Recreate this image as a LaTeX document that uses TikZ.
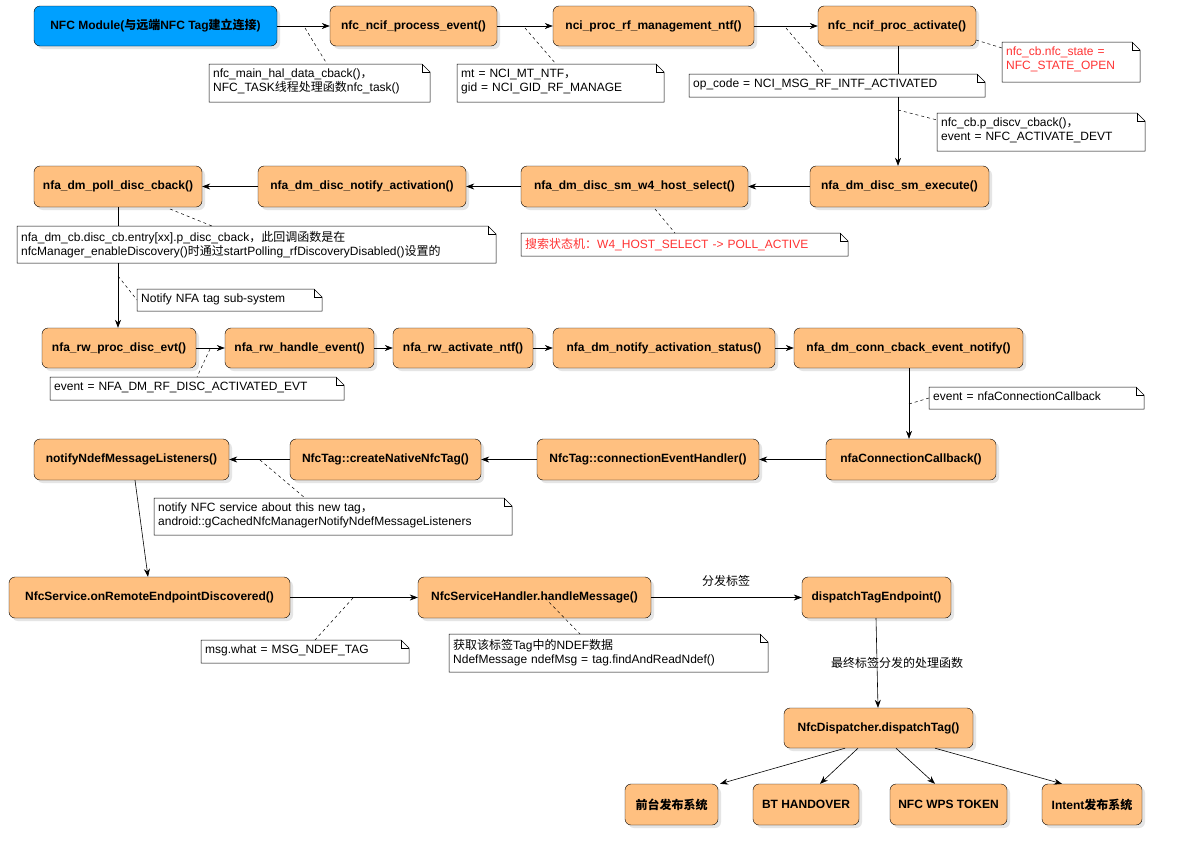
\documentclass[tikz,border=0pt]{standalone}
\usepackage{fontspec}
\setmainfont{Liberation Sans}
\newfontfamily\cjk{Noto Sans CJK SC}
\usetikzlibrary{shadows,calc,arrows.meta}
\definecolor{boxfill}{RGB}{255,192,128}
\definecolor{bluefill}{RGB}{0,160,255}
\definecolor{redtxt}{RGB}{255,51,51}
\tikzset{
  box/.style={draw=black,fill=boxfill,rounded corners=6pt,font=\fontsize{12}{14}\selectfont\bfseries,
    minimum height=40pt,inner sep=3pt,drop shadow={shadow xshift=3pt,shadow yshift=-3pt,fill=gray!40}},
  notebox/.style={anchor=north west,align=left,font=\fontsize{12}{14}\selectfont,inner sep=4pt,text depth=0pt},
  conn/.style={-{Stealth[length=8pt,width=6pt]},line width=0.6pt},
  dline/.style={dashed,line width=0.5pt},
  lbl/.style={font=\fontsize{12}{14}\selectfont}
}
\newcommand{\mkbox}[7]{% name x1 y1 x2 y2 style text
  \node[box,#6,minimum width={#4-#2},minimum height={#5-#3}] (#1) at ({(#2+#4)/2},{(#3+#5)/2}) {#7};}
\newcommand{\mknote}[6]{% name x1 y1 x2 y2 text
  \fill[white] (#2,#3) rectangle (#4,#5);
  \draw[line width=0.5pt] (#2,#3) -- ({#4-8},#3) -- (#4,{#3+8}) -- (#4,#5) -- (#2,#5) -- cycle;
  \draw[line width=0.5pt] ({#4-8},#3) -- ({#4-8},{#3+8}) -- (#4,{#3+8});
  \node[notebox,text width={#4-#2-8}] (#1) at (#2,{#3+1}) {#6};}
\newcommand{\cm}{{\cjk ，}}
\begin{document}
\begin{tikzpicture}[x=1pt,y=-1pt]
\useasboundingbox[fill=white] (0,0) rectangle (1186,865);
% row 1
\mkbox{a1}{34}{6}{277}{46}{fill=bluefill}{NFC Module({\cjk 与远端}NFC Tag{\cjk 建立连接})}
\mkbox{a2}{330}{6}{497}{46}{}{nfc\_ncif\_process\_event()}
\mkbox{a3}{553}{6}{754}{46}{}{nci\_proc\_rf\_management\_ntf()}
\mkbox{a4}{818}{6}{976}{46}{}{nfc\_ncif\_proc\_activate()}
% row 2
\mkbox{b1}{34}{166}{202}{207}{}{nfa\_dm\_poll\_disc\_cback()}
\mkbox{b2}{258}{166}{466}{207}{}{nfa\_dm\_disc\_notify\_activation()}
\mkbox{b3}{521}{166}{748}{207}{}{nfa\_dm\_disc\_sm\_w4\_host\_select()}
\mkbox{b4}{810}{166}{989}{207}{}{nfa\_dm\_disc\_sm\_execute()}
% row 3
\mkbox{c1}{42}{328}{196}{368}{}{nfa\_rw\_proc\_disc\_evt()}
\mkbox{c2}{225}{328}{374}{368}{}{nfa\_rw\_handle\_event()}
\mkbox{c3}{393}{328}{533}{368}{}{nfa\_rw\_activate\_ntf()}
\mkbox{c4}{553}{328}{775}{368}{}{nfa\_dm\_notify\_activation\_status()}
\mkbox{c5}{794}{328}{1023}{368}{}{nfa\_dm\_conn\_cback\_event\_notify()}
% row 4
\mkbox{d1}{34}{439}{229}{480}{}{notifyNdefMessageListeners()}
\mkbox{d2}{290}{439}{481}{480}{}{NfcTag::createNativeNfcTag()}
\mkbox{d3}{537}{439}{759}{480}{}{NfcTag::connectionEventHandler()}
\mkbox{d4}{826}{439}{996}{480}{}{nfaConnectionCallback()}
% row 5
\mkbox{e1}{9}{577}{290}{618}{}{NfcService.onRemoteEndpointDiscovered()}
\mkbox{e2}{418}{577}{651}{618}{}{NfcServiceHandler.handleMessage()}
\mkbox{e3}{802}{577}{951}{618}{}{dispatchTagEndpoint()}
\mkbox{f1}{784}{708}{973}{748}{}{NfcDispatcher.dispatchTag()}
% row 6
\mkbox{g1}{625}{784}{718}{825}{}{{\cjk 前台发布系统}}
\mkbox{g2}{753}{784}{859}{825}{}{BT HANDOVER}
\mkbox{g3}{890}{784}{1007}{825}{}{NFC WPS TOKEN}
\mkbox{g4}{1042}{784}{1142}{825}{}{Intent{\cjk 发布系统}}
% connectors
\draw[conn] (a1) -- (a2);
\draw[conn] (a2) -- (a3);
\draw[conn] (a3) -- (a4);
\draw[conn] (a4.south -| 898,0) -- (b4.north -| 898,0);
\draw[conn] (b4) -- (b3);
\draw[conn] (b3) -- (b2);
\draw[conn] (b2) -- (b1);
\draw[conn] (b1.south -| 118,0) -- (c1.north -| 118,0);
\draw[conn] (c1) -- (c2);
\draw[conn] (c2) -- (c3);
\draw[conn] (c3) -- (c4);
\draw[conn] (c4) -- (c5);
\draw[conn] (c5.south -| 909,0) -- (d4.north -| 909,0);
\draw[conn] (d4) -- (d3);
\draw[conn] (d3) -- (d2);
\draw[conn] (d2) -- (d1);
\draw[conn] (d1.south -| 135,0) -- (e1.north -| 148,0);
\draw[conn] (e1) -- (e2);
\draw[conn] (e2) -- (e3);
\draw[conn] (e3.south -| 876,0) -- (f1.north -| 878,0);
\draw[conn] (f1.south -| 845,0) -- (g1.north -| 720,0);
\draw[conn] (f1.south -| 858,0) -- (g2.north -| 820,0);
\draw[conn] (f1.south -| 896,0) -- (g3.north -| 935,0);
\draw[conn] (f1.south -| 935,0) -- (g4.north -| 1062,0);
\node[lbl] (l1) at (726,581) {{\cjk 分发标签}};
\node[lbl] (l2) at (897,663) {{\cjk 最终标签分发的处理函数}};
% notes
\mknote{n1}{209}{64}{430}{102}{nfc\_main\_hal\_data\_cback()\cm\\NFC\_TASK{\cjk 线程处理函数}nfc\_task()}
\mknote{n2}{457}{64}{664}{102}{mt = NCI\_MT\_NTF\cm\\gid = NCI\_GID\_RF\_MANAGE}
\mknote{n3}{689}{74}{985}{97}{op\_code = NCI\_MSG\_RF\_INTF\_ACTIVATED}
\mknote{n4}{1002}{42}{1140}{82}{\color{redtxt}nfc\_cb.nfc\_state =\\NFC\_STATE\_OPEN}
\mknote{n5}{937}{113}{1145}{151}{nfc\_cb.p\_discv\_cback()\cm\\event = NFC\_ACTIVATE\_DEVT}
\mknote{n6}{17}{226}{496}{263}{nfa\_dm\_cb.disc\_cb.entry[xx].p\_disc\_cback{\cjk ，此回调函数是在}\\nfcManager\_enableDiscovery(){\cjk 时通过}startPolling\_rfDiscoveryDisabled(){\cjk 设置的}}
\mknote{n7}{521}{233}{848}{256}{\color{redtxt}{\cjk 搜索状态机：}W4\_HOST\_SELECT -> POLL\_ACTIVE}
\mknote{n8}{137}{289}{322}{311}{Notify NFA tag sub-system}
\mknote{n9}{50}{377}{344}{400}{event = NFA\_DM\_RF\_DISC\_ACTIVATED\_EVT}
\mknote{n10}{929}{387}{1144}{409}{event = nfaConnectionCallback}
\mknote{n11}{154}{498}{512}{535}{notify NFC service about this new tag\cm\\android::gCachedNfcManagerNotifyNdefMessageListeners}
\mknote{n12}{201}{640}{409}{663}{msg.what = MSG\_NDEF\_TAG}
\mknote{n13}{449}{634}{768}{672}{{\cjk 获取该标签}Tag{\cjk 中的}NDEF{\cjk 数据}\\NdefMessage ndefMsg = tag.findAndReadNdef()}
% note links
\coordinate (p1) at (305,28); \draw[dline] (p1) -- (327,64);
\coordinate (p2) at (525,28); \draw[dline] (p2) -- (556,64);
\coordinate (p3) at (786,28); \draw[dline] (p3) -- (825,74);
\coordinate (p4) at (976,40); \draw[dline] (p4) -- (1002,48);
\coordinate (p5) at (898,110); \draw[dline] (p5) -- (937,120);
\coordinate (p6) at (170,209); \draw[dline] (p6) -- (212,226);
\coordinate (p7) at (655,209); \draw[dline] (p7) -- (675,233);
\coordinate (p8) at (118,276); \draw[dline] (p8) -- (137,300);
\coordinate (p9) at (210,349); \draw[dline] (p9) -- (197,377);
\coordinate (p10) at (909,404); \draw[dline] (p10) -- (929,398);
\coordinate (p11) at (260,460); \draw[dline] (p11) -- (305,498);
\coordinate (p12) at (353,598); \draw[dline] (p12) -- (315,640);
\coordinate (p13) at (545,598); \draw[dline] (p13) -- (580,634);
\end{tikzpicture}
\end{document}
